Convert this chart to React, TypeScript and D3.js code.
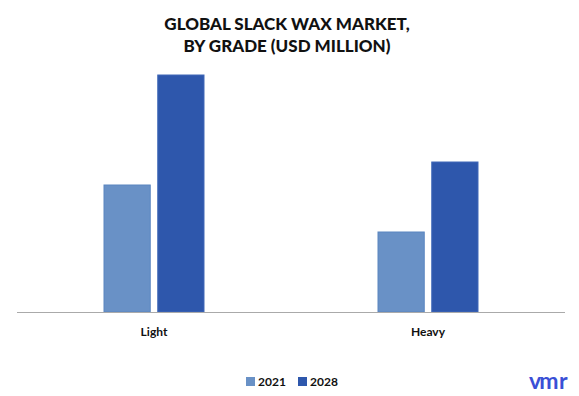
import React from "react";
import * as d3 from "d3";

const categories = ["Light", "Heavy"];
const seriesNames = ["2021", "2028"];
const values2021 = [127, 80];
const values2028 = [237, 150];
const colors = ["#6991c6", "#2e57ac"];

export default function App() {
  const W = 579, H = 396;
  const baseY = 312;
  const x = d3.scaleBand().domain(categories).range([17, 565]).paddingInner(0).paddingOuter(0);
  const x1 = d3.scaleBand().domain(seriesNames).range([0, 100]).paddingInner(0.14);
  const y = d3.scaleLinear().domain([0, 250]).range([baseY, baseY - 250]);
  const series = [values2021, values2028];
  const font = "Lato, 'Open Sans', sans-serif";
  return (
    <svg width={W} height={H} style={{ position: "absolute", left: 0, top: 0 }}>
      <rect width={W} height={H} fill="#fff" />
      <text x={287} y={30} textAnchor="middle" fontFamily={font} fontWeight="900" fontSize={17} fill="#111">GLOBAL SLACK WAX MARKET,</text>
      <text x={287} y={52} textAnchor="middle" fontFamily={font} fontWeight="900" fontSize={17} fill="#111">BY GRADE (USD MILLION)</text>
      {categories.map((c, i) =>
        series.map((vals, s) => {
          const cx = (x(c) as number) + x.bandwidth() / 2 - 50;
          const bx = cx + (x1(seriesNames[s]) as number);
          return (
            <rect key={c + s} x={bx} y={y(vals[i])} width={x1.bandwidth()} height={baseY - y(vals[i])}
              fill={colors[s]} stroke={s === 0 ? "#5a85c0" : "#4068b8"} strokeWidth={1} />
          );
        })
      )}
      <line x1={17} x2={565} y1={baseY + 0.5} y2={baseY + 0.5} stroke="#aaa" strokeWidth={1} />
      {categories.map((c) => (
        <text key={c} x={(x(c) as number) + x.bandwidth() / 2} y={336} textAnchor="middle" fontFamily={font} fontWeight="bold" fontSize={12} fill="#111">{c}</text>
      ))}
      {seriesNames.map((n, i) => {
        const lx = 246 + i * 52;
        return (
          <g key={n}>
            <rect x={lx} y={377} width={9} height={9} fill={colors[i]} />
            <text x={lx + 12} y={386} fontFamily={font} fontWeight="bold" fontSize={12} fill="#111">{n}</text>
          </g>
        );
      })}
      <text x={529} y={389} fontFamily={font} fontSize={23} fontWeight="bold" fill="#3a4fd6" letterSpacing={-2}>vm</text>
      <text x={559} y={389} fontFamily={font} fontSize={23} fontWeight="bold" fill="#3a4fd6">r</text>
    </svg>
  );
}
